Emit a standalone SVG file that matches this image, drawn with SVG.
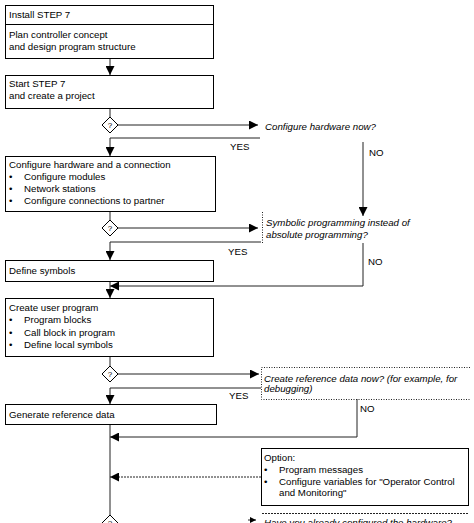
<svg xmlns="http://www.w3.org/2000/svg" width="474" height="523" viewBox="0 0 474 523">
<defs>
<style>
.box{fill:#fff;stroke:#000;stroke-width:1}
.t{font-family:"Liberation Sans",Arial,sans-serif;font-size:9.7px;fill:#000}
.q{font-family:"Liberation Sans",Arial,sans-serif;font-size:9.7px;font-style:italic;fill:#000}
.c{fill:none;stroke:#222;stroke-width:1}
.dash{fill:none;stroke:#222;stroke-width:1;stroke-dasharray:2,1}
.dot{fill:none;stroke:#222;stroke-width:1;stroke-dasharray:1,1.5}
.dia{fill:#fff;stroke:#000;stroke-width:1}
.qm{font-family:"Liberation Sans",Arial,sans-serif;font-size:8px;fill:#000;text-anchor:middle}
</style>
<marker id="ah" viewBox="0 0 10 10" refX="10" refY="5" markerWidth="9" markerHeight="9" markerUnits="userSpaceOnUse" orient="auto">
<path d="M0,0 L10,5 L0,10 z" fill="#000"/>
</marker>
<marker id="ahs" viewBox="0 0 10 10" refX="10" refY="5" markerWidth="6" markerHeight="6" markerUnits="userSpaceOnUse" orient="auto">
<path d="M0,0 L10,5 L0,10 z" fill="#000"/>
</marker>
</defs>
<rect width="474" height="523" fill="#fff"/>

<g id="connectors">
<path class="c" d="M110,58 V75" marker-end="url(#ah)"/>
<path class="c" d="M110,108 V117"/>
<path class="c" d="M118,125 H258" marker-end="url(#ah)"/>
<path class="c" d="M260,138 H110 V156" marker-end="url(#ah)"/>
<path class="c" d="M363,142 V216" marker-end="url(#ah)"/>
<path class="c" d="M110,211 V220"/>
<path class="c" d="M118,228 H258" marker-end="url(#ah)"/>
<path class="c" d="M261,242 H110 V260" marker-end="url(#ah)"/>
<path class="c" d="M363,243 V286 H110" marker-end="url(#ah)"/>
<path class="c" d="M110,281 V298" marker-end="url(#ah)"/>
<path class="c" d="M110,357 V366"/>
<path class="c" d="M118,374 H259" marker-end="url(#ah)"/>
<path class="c" d="M261,388 H110 V404" marker-end="url(#ah)"/>
<path class="c" d="M357,399 V437 H110" marker-end="url(#ah)"/>
<path class="c" d="M110,424 V515"/>
<path class="dash" d="M261,477 H110" marker-end="url(#ah)"/>
<path class="c" d="M248,520 H256" marker-end="url(#ahs)"/>
</g>

<g id="n1"><rect class="box" x="5.5" y="5.5" width="208" height="19"/><text class="t" x="9" y="18">Install STEP 7</text></g>
<g id="n2"><rect class="box" x="5.5" y="24.5" width="208" height="34"/><text class="t" x="9" y="38">Plan controller concept</text><text class="t" x="9" y="49.5">and design program structure</text></g>
<g id="n3"><rect class="box" x="5.5" y="75.5" width="208" height="33"/><text class="t" x="9" y="87">Start STEP 7</text><text class="t" x="9" y="99">and create a project</text></g>
<g id="d1"><path class="dia" d="M110,117 L118,125 L110,133 L102,125 Z"/><text class="qm" x="110" y="128">?</text></g>
<g id="q1"><text class="q" x="265" y="130">Configure hardware now?</text><text class="t" x="230" y="150">YES</text><text class="t" x="369" y="156">NO</text></g>
<g id="n4"><rect class="box" x="5.5" y="156.5" width="210" height="55"/>
<text class="t" x="9" y="167.5">Configure hardware and a connection</text>
<text class="t" x="9" y="179.5">•</text><text class="t" x="24" y="179.5">Configure modules</text>
<text class="t" x="9" y="191.5">•</text><text class="t" x="24" y="191.5">Network stations</text>
<text class="t" x="9" y="203.5">•</text><text class="t" x="24" y="203.5">Configure connections to partner</text></g>
<g id="d2"><path class="dia" d="M110,220 L118,228 L110,236 L102,228 Z"/><text class="qm" x="110" y="231">?</text></g>
<g id="q2"><path class="dot" d="M262.5,212 V243"/><text class="q" x="266" y="226">Symbolic programming instead of</text><text class="q" x="266" y="237.5">absolute programming?</text><text class="t" x="228" y="254.5">YES</text><text class="t" x="368" y="265">NO</text></g>
<g id="n5"><rect class="box" x="5.5" y="260.5" width="208" height="21"/><text class="t" x="9" y="274">Define symbols</text></g>
<g id="n6"><rect class="box" x="5.5" y="298.5" width="208" height="58"/>
<text class="t" x="9" y="310.5">Create user program</text>
<text class="t" x="9" y="323">•</text><text class="t" x="24" y="323">Program blocks</text>
<text class="t" x="9" y="335.5">•</text><text class="t" x="24" y="335.5">Call block in program</text>
<text class="t" x="9" y="347.5">•</text><text class="t" x="24" y="347.5">Define local symbols</text></g>
<g id="d3"><path class="dia" d="M110,366 L118,374 L110,382 L102,374 Z"/><text class="qm" x="110" y="377">?</text></g>
<g id="q3"><path class="dot" d="M470,367.5 H261.5 V399.5 H470"/><text class="q" x="264" y="381.5">Create reference data now? (for example, for</text><text class="q" x="264" y="392">debugging)</text><text class="t" x="229" y="399">YES</text><text class="t" x="360" y="412">NO</text></g>
<g id="n7"><rect class="box" x="5.5" y="404.5" width="211" height="20"/><text class="t" x="9" y="418">Generate reference data</text></g>
<g id="n8"><rect class="box" x="261.5" y="448.5" width="207" height="57"/>
<text class="t" x="264" y="460.5">Option:</text>
<text class="t" x="264" y="472.5">•</text><text class="t" x="279" y="472.5">Program messages</text>
<text class="t" x="264" y="484.5">•</text><text class="t" x="279" y="484.5">Configure variables for "Operator Control</text>
<text class="t" x="279" y="496">and Monitoring"</text></g>
<g id="d4"><path class="dia" d="M110,515 L118,523 L110,531 L102,523 Z"/><text class="qm" x="110" y="526">?</text></g>
<g id="q4"><path class="dash" d="M262,513.5 H468"/><text class="q" x="264" y="526">Have you already configured the hardware?</text></g>
</svg>
